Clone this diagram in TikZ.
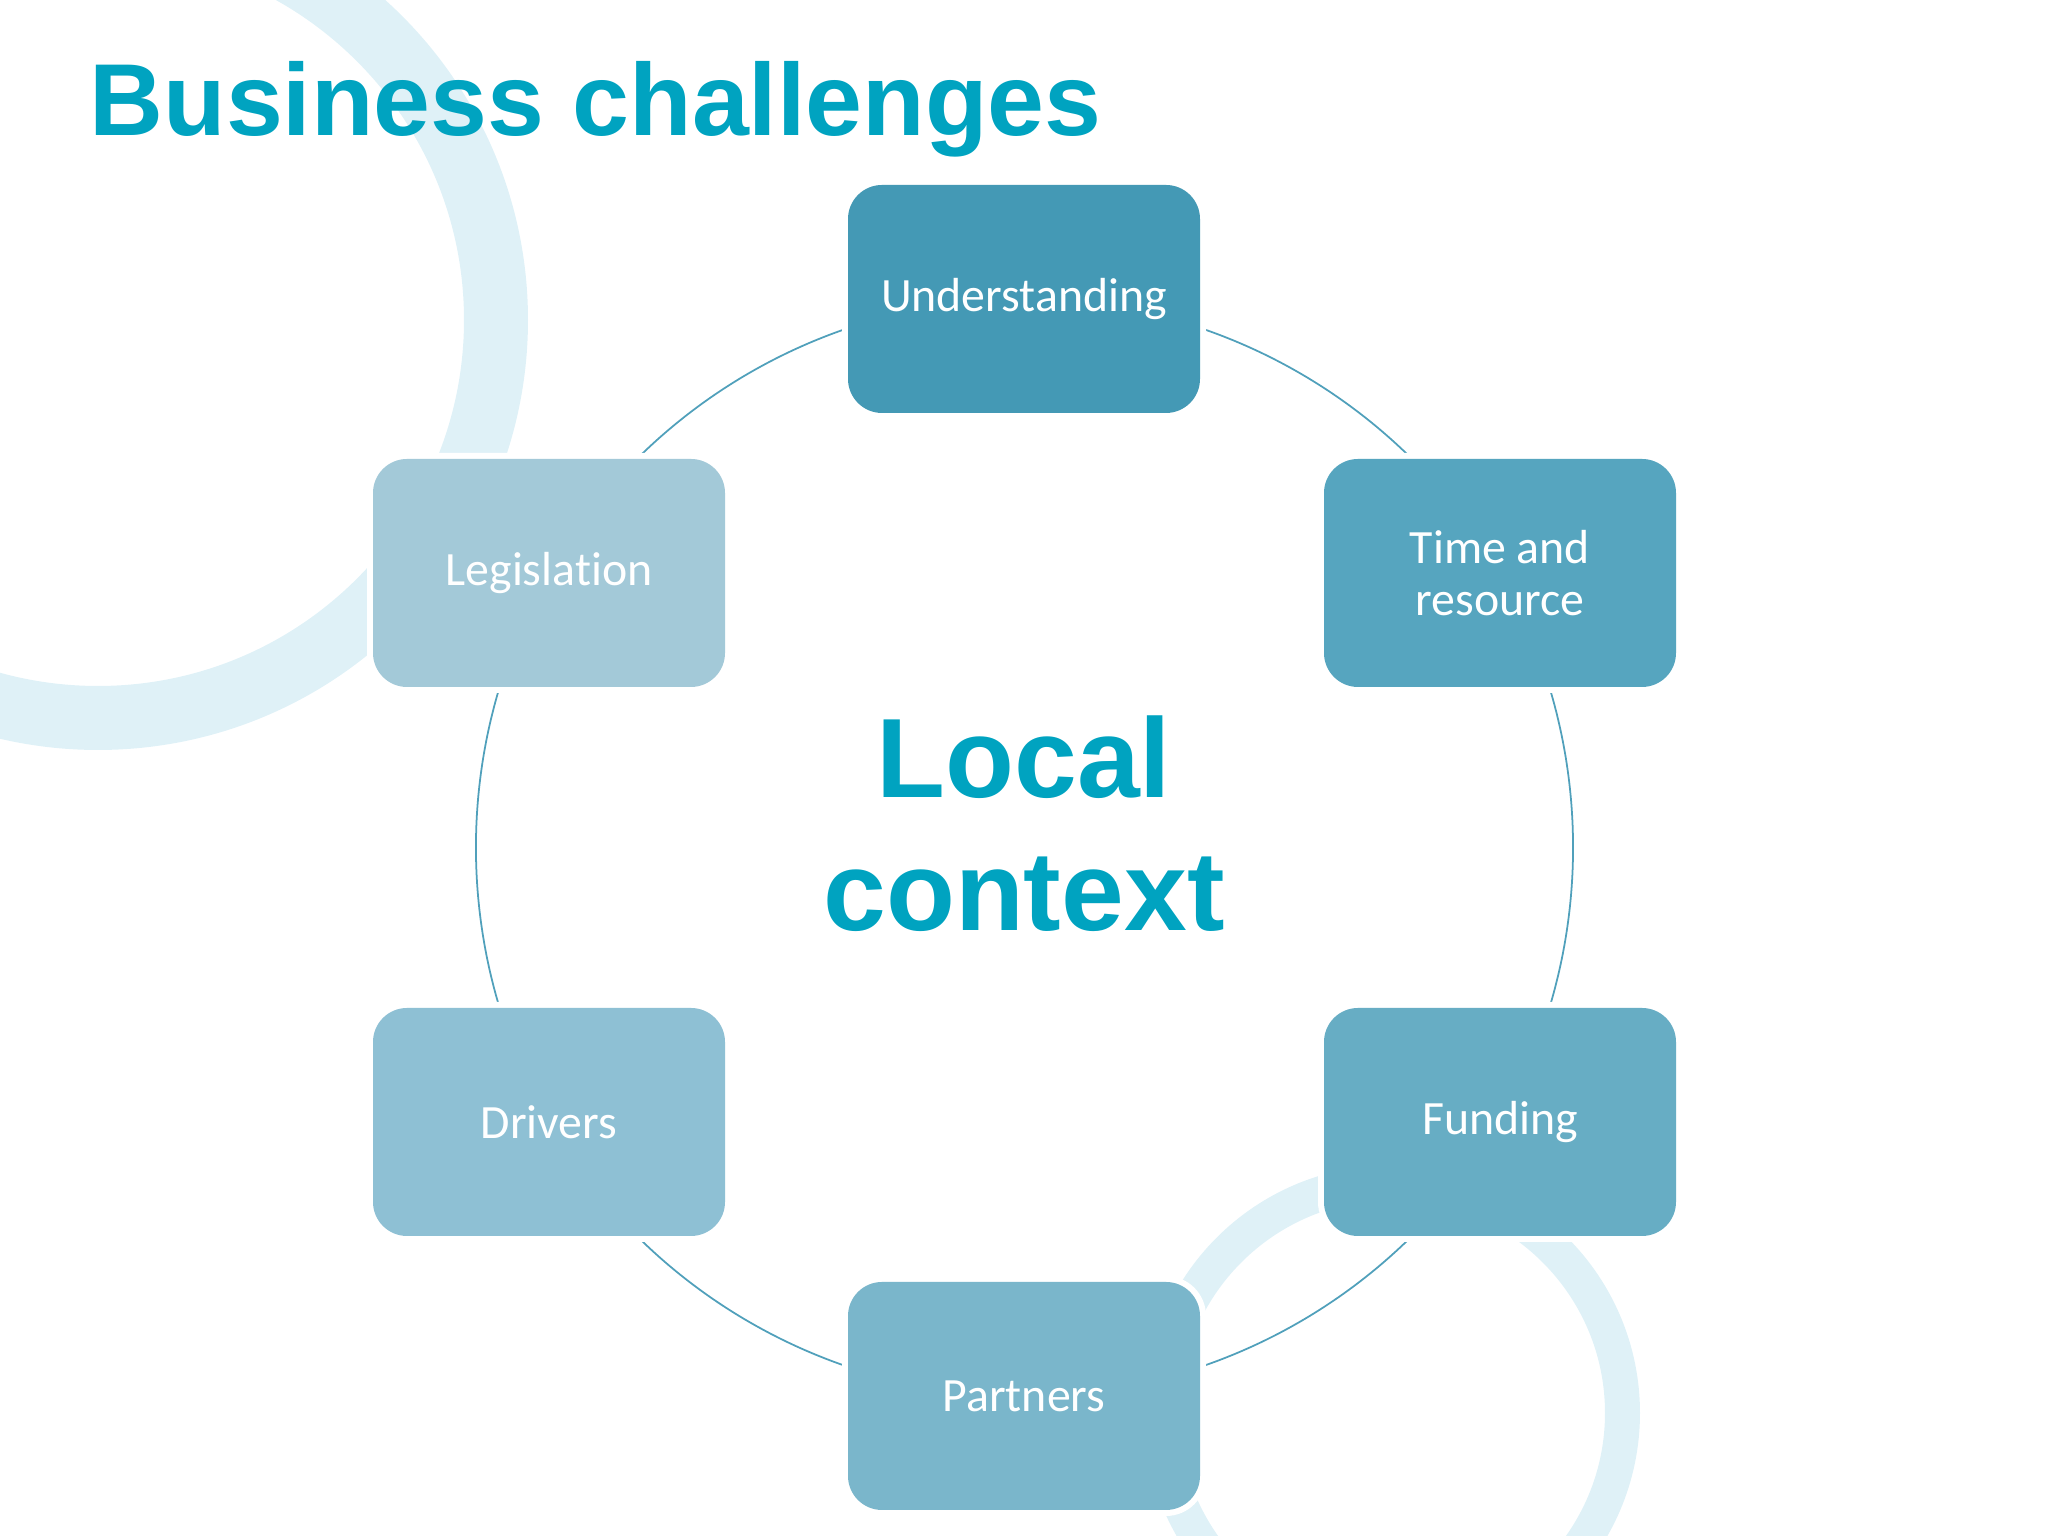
\documentclass[tikz,border=0pt]{standalone}
\usepackage{fontspec}
\setmainfont{Carlito}[Ligatures={NoCommon,NoContextual}]
\newfontfamily\headfont{Liberation Sans}
\usetikzlibrary{positioning, backgrounds}

\definecolor{titleblue}{RGB}{0,163,192}
\definecolor{ringblue}{RGB}{223,241,247}
\definecolor{linkblue}{RGB}{80,160,187}
\definecolor{boxa}{RGB}{68,153,181}
\definecolor{boxb}{RGB}{86,165,191}
\definecolor{boxc}{RGB}{103,173,196}
\definecolor{boxd}{RGB}{122,182,203}
\definecolor{boxe}{RGB}{142,192,212}
\definecolor{boxf}{RGB}{163,201,216}

\begin{document}
\begin{tikzpicture}[
    challenge/.style={rectangle, rounded corners=0.34cm, minimum width=3.52cm, minimum height=2.28cm, align=center, text=white, font=\fontsize{13.6}{14.8}\selectfont, preaction={draw=white, line width=0.12cm}},
    link/.style={draw=linkblue, line width=0.5pt, bend left=30, looseness=0.91},
    ring/.style={draw=ringblue}
]
    \useasboundingbox (0,0) rectangle (20.48,15.36);
    \clip (0,0) rectangle (20.48,15.36);

    % Title
    \node[anchor=base west, inner sep=0, text=titleblue, font=\headfont\bfseries\fontsize{29.1}{34}\selectfont] (title) at (0.89,14.0) {Business challenges};

    % Challenges
    \node[challenge, fill=boxa] (understanding) at (10.24,12.37) {Understanding};
    \node[challenge, fill=boxb] (time) at (15.0,9.63) {Time and\\resource};
    \node[challenge, fill=boxc] (funding) at (15.0,4.14) {Funding};
    \node[challenge, fill=boxd] (partners) at (10.24,1.40) {Partners};
    \node[challenge, fill=boxe] (drivers) at (5.49,4.14) {Drivers};
    \node[challenge, fill=boxf] (legislation) at (5.49,9.63) {Legislation};

    % Centre
    \node[align=center, text=titleblue, font=\headfont\bfseries\fontsize{32.1}{38}\selectfont] (local) at (10.24,7.125) {Local\\context};

    \begin{pgfonlayer}{background}
        % Rings
        \draw[ring, line width=0.64cm] (0.98,12.16) circle (3.98);
        \draw[ring, line width=0.35cm] (13.92,1.23) circle (2.305);

        % Connections
        \draw[link] (understanding.center) to (time.center);
        \draw[link] (time.center) to (funding.center);
        \draw[link] (funding.center) to (partners.center);
        \draw[link] (partners.center) to (drivers.center);
        \draw[link] (drivers.center) to (legislation.center);
        \draw[link] (legislation.center) to (understanding.center);
    \end{pgfonlayer}

\end{tikzpicture}
\end{document}
